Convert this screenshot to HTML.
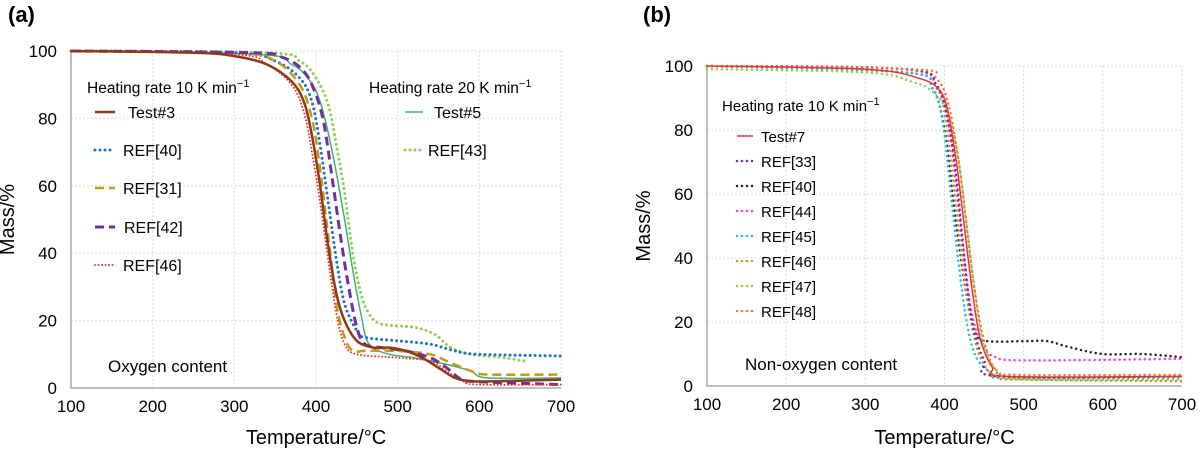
<!DOCTYPE html>
<html><head><meta charset="utf-8"><style>
body{margin:0;background:#fff}
svg{display:block;font-family:"Liberation Sans",Arial,sans-serif}
</style></head><body>
<svg id="c" width="1200" height="453" viewBox="0 0 1200 453">
<text x="8" y="22" font-size="22" font-weight="bold">(a)</text>
<text x="643" y="22" font-size="22" font-weight="bold">(b)</text>
<g id="pa"></g>
<g id="pb"></g>
</svg>
<script>
const xTicks=[100,200,300,400,500,600,700];
const yTicks=[0,20,40,60,80,100];
// Panel a series
const a_test3_t=[100,250,300,340,370,385,395,405,415,425,435,450,470,490,510,530,550,570,590,620,700];
const a_test3_m=[100,99.5,98.5,96,91,85,75,60,42,28,20,14,12,12,11,9,6,3,2,2,2.5];
const a_ref40_t=[100,300,350,380,395,405,415,425,435,450,460,500,540,570,600,700];
const a_ref40_m=[100,99.5,97,92,85,72,55,38,25,17,15,14,13,11,10,9.5];
const a_ref31_t=[100,300,350,380,395,405,415,425,435,445,460,500,540,560,590,610,700];
const a_ref31_m=[100,99.5,97,90,80,65,45,25,15,11,11,11,10,8,5,4,4];
const a_ref42_t=[100,320,360,385,400,410,420,430,440,450,460,480,510,540,560,575,590,700];
const a_ref42_m=[100,99.5,98,94,87,78,62,45,30,18,13,12,11,9,6,3,2,1];
const a_ref46_t=[100,300,340,370,385,395,405,415,425,435,450,500,540,560,580,600,700];
const a_ref46_m=[100,99,96,90,82,70,55,38,22,13,10,9,8,5,2,1,1];
const a_test5_t=[100,330,370,390,405,420,435,445,455,465,490,520,560,590,610,700];
const a_test5_m=[100,99,96,92,85,70,50,35,22,13,10,9,7,5,3,3];
const a_ref43_t=[100,340,380,400,415,425,435,445,455,465,480,520,545,565,590,630,655];
const a_ref43_m=[100,99.5,97,92,84,72,58,40,28,22,19,18,16,12,10,9,8];
// Panel b series
const b_test7_t=[100,300,370,395,405,415,425,435,445,460,480,700];
const b_test7_m=[100,99,96,92,85,70,50,30,15,6,3,3];
const b_ref33_t=[100,350,390,405,415,425,435,450,470,700];
const b_ref33_m=[100,99,94,82,65,40,20,8,3,3];
const b_ref40_t=[100,350,385,400,410,418,430,440,455,500,530,560,600,650,700];
const b_ref40_m=[100,98,93,80,60,45,25,16,14,14,14,12,10,10,9];
const b_ref44_t=[100,350,390,405,415,425,435,450,465,500,700];
const b_ref44_m=[100,99,93,82,62,40,22,12,9,8,8.5];
const b_ref45_t=[100,350,385,398,408,418,428,440,460,480,700];
const b_ref45_m=[100,98,93,82,60,38,20,9,4,2.5,2.5];
const b_ref46_t=[100,350,390,402,412,422,432,445,465,500,700];
const b_ref46_m=[100,99,94,82,62,40,22,9,3,2,1.5];
const b_ref47_t=[100,300,360,385,405,418,428,438,450,470,500,700];
const b_ref47_m=[99,98,95,92,85,70,50,30,12,4,2,2];
const b_ref48_t=[100,360,390,405,418,428,438,450,465,490,700];
const b_ref48_m=[100,99,96,88,70,50,30,14,5,3.5,3.5];

const NS="http://www.w3.org/2000/svg";
function mk(p,tag,at){const e=document.createElementNS(NS,tag);for(const k in at)e.setAttribute(k,at[k]);p.appendChild(e);return e;}
function smooth(P){let d='M'+P[0][0].toFixed(1)+','+P[0][1].toFixed(1);
  for(let i=0;i<P.length-1;i++){const p0=P[i-1]||P[i],p1=P[i],p2=P[i+1],p3=P[i+2]||p2;
    const c1=[p1[0]+(p2[0]-p0[0])/6,p1[1]+(p2[1]-p0[1])/6],c2=[p2[0]-(p3[0]-p1[0])/6,p2[1]-(p3[1]-p1[1])/6];
    d+=`C${c1[0].toFixed(1)},${c1[1].toFixed(1)} ${c2[0].toFixed(1)},${c2[1].toFixed(1)} ${p2[0].toFixed(1)},${p2[1].toFixed(1)}`;}
  return d;}
function panel(g,x0,x1,y0,y1,series,legend,note,notePos,yTitleX,legHeader,hfs){
  const sx=t=>x0+(t-100)/600*(x1-x0), sy=m=>y0-(m/100)*(y0-y1);
  xTicks.forEach(t=>{const l=mk(g,'line',{x1:sx(t),x2:sx(t),y1:y1,y2:y0,stroke:'#ddd','stroke-dasharray':'2,2'});
    
    const tx=mk(g,'text',{x:sx(t),y:y0+24,'font-size':17,'text-anchor':'middle'});tx.textContent=t;
    });
  yTicks.forEach(m=>{const l=mk(g,'line',{x1:x0,x2:x1,y1:sy(m),y2:sy(m),stroke:'#ddd','stroke-dasharray':'2,2'});
    
    const tx=mk(g,'text',{x:x0-14,y:sy(m)+6,'font-size':17,'text-anchor':'end'});tx.textContent=m;
    });
  const ax=mk(g,'path',{d:`M${x0},${y1}V${y0}H${x1}`,fill:'none',stroke:'#aaa','stroke-width':1.5});
  
  series.forEach(s=>{const d=smooth(s.t.map((t,i)=>[sx(t),sy(s.m[i])]));
    const p=mk(g,'path',{d,fill:'none',stroke:s.c,'stroke-width':s.w,'stroke-dasharray':s.da||'none','stroke-linecap':s.da&&s.da.startsWith('0')?'round':'butt','stroke-linejoin':'round'});
    
    });
  legHeader.forEach(h=>{const tx=mk(g,'text',{x:h.x,y:h.y,'font-size':hfs});tx.innerHTML=h.s+'<tspan dy="-6" font-size="11">−1</tspan>';
    });
  legend.forEach(L=>{const s=series.find(q=>q.n===L.n);
    const l=mk(g,'line',{x1:L.x,x2:L.x+L.len,y1:L.y-5,y2:L.y-5,stroke:s.c,'stroke-width':s.w,'stroke-dasharray':s.da||'none','stroke-linecap':s.da&&s.da.startsWith('0')?'round':'butt'});
    
    const tx=mk(g,'text',{x:L.tx,y:L.y+1,'font-size':L.fs});tx.textContent=L.n;
    });
  const nt=mk(g,'text',{x:notePos[0],y:notePos[1],'font-size':17});nt.textContent=note;
  
  const yt=mk(g,'text',{x:yTitleX,y:(y0+y1)/2,'font-size':20,'text-anchor':'middle',transform:`rotate(-90 ${yTitleX} ${(y0+y1)/2})`});yt.textContent='Mass/%';
  
  const xt=mk(g,'text',{x:(x0+x1)/2,y:444,'font-size':20,'text-anchor':'middle'});xt.textContent='Temperature/°C';
  
}
const dot='0,5';
panel(document.getElementById('pa'),71,561,388,51,[
 {n:'REF[43]',t:a_ref43_t,m:a_ref43_m,c:'#8fd14f',w:3,da:dot},
 {n:'Test#5',t:a_test5_t,m:a_test5_m,c:'#3cb371',w:1.5},
 {n:'REF[40]',t:a_ref40_t,m:a_ref40_m,c:'#1f72c8',w:3,da:dot},
 {n:'REF[31]',t:a_ref31_t,m:a_ref31_m,c:'#c8961a',w:2.5,da:'9,5'},
 {n:'REF[42]',t:a_ref42_t,m:a_ref42_m,c:'#7030a0',w:3,da:'9,5'},
 {n:'REF[46]',t:a_ref46_t,m:a_ref46_m,c:'#f03030',w:2,da:'0,3.5'},
 {n:'Test#3',t:a_test3_t,m:a_test3_m,c:'#8b3a1a',w:2.5}],
 [{n:'Test#3',x:95,len:20,tx:128,y:117,fs:16},{n:'REF[40]',x:95,len:20,tx:123,y:155,fs:16},{n:'REF[31]',x:95,len:20,tx:123,y:193,fs:16},
  {n:'REF[42]',x:95,len:20,tx:124,y:232,fs:16},{n:'REF[46]',x:95,len:20,tx:123,y:270,fs:16},
  {n:'Test#5',x:405,len:18,tx:434,y:117,fs:16},{n:'REF[43]',x:405,len:18,tx:428,y:155,fs:16}],
 'Oxygen content',[108,372],14,[{x:87,y:93,s:'Heating rate 10 K min'},{x:369,y:93,s:'Heating rate 20 K min'}],15.5);
panel(document.getElementById('pb'),707,1182,386,66,[
 {n:'REF[40]',t:b_ref40_t,m:b_ref40_m,c:'#222',w:2.5,da:dot},
 {n:'REF[44]',t:b_ref44_t,m:b_ref44_m,c:'#ff3ccc',w:2.5,da:dot},
 {n:'REF[45]',t:b_ref45_t,m:b_ref45_m,c:'#22b8f0',w:2.5,da:dot},
 {n:'REF[46]',t:b_ref46_t,m:b_ref46_m,c:'#c8961a',w:2.5,da:dot},
 {n:'REF[47]',t:b_ref47_t,m:b_ref47_m,c:'#8fd14f',w:2.5,da:dot},
 {n:'REF[33]',t:b_ref33_t,m:b_ref33_m,c:'#7030a0',w:2.5,da:dot},
 {n:'REF[48]',t:b_ref48_t,m:b_ref48_m,c:'#f07830',w:2.5,da:dot},
 {n:'Test#7',t:b_test7_t,m:b_test7_m,c:'#f03030',w:1.5}],
 [{n:'Test#7',x:737,len:16,tx:761,y:141,fs:15},{n:'REF[33]',x:737,len:16,tx:761,y:166,fs:15},{n:'REF[40]',x:737,len:16,tx:761,y:191,fs:15},
  {n:'REF[44]',x:737,len:16,tx:761,y:216,fs:15},{n:'REF[45]',x:737,len:16,tx:761,y:241,fs:15},{n:'REF[46]',x:737,len:16,tx:761,y:266,fs:15},
  {n:'REF[47]',x:737,len:16,tx:761,y:291,fs:15},{n:'REF[48]',x:737,len:16,tx:761,y:316,fs:15}],
 'Non-oxygen content',[745,370],650,[{x:722,y:111,s:'Heating rate 10 K min'}],15);
</script>
</body></html>
